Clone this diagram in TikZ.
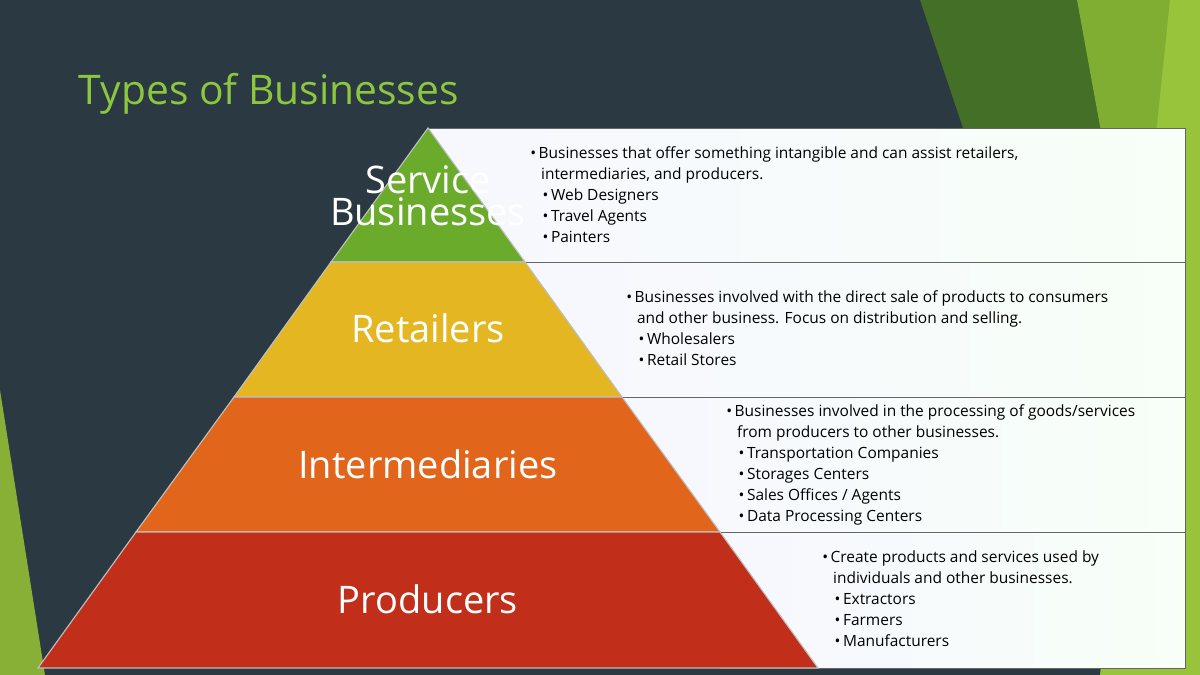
\documentclass[tikz,border=0pt]{standalone}
\usepackage{fontspec}
\setmainfont{Open Sans}
\definecolor{slate}{HTML}{2B3A42}
\definecolor{titlegreen}{HTML}{8DC63F}
\definecolor{darkwedge}{HTML}{436F26}
\definecolor{midwedge}{HTML}{7FAE33}
\definecolor{lightwedge}{HTML}{98C43C}
\definecolor{lvlgreen}{HTML}{6AAB2C}
\definecolor{lvlyellow}{HTML}{E4B621}
\definecolor{lvlorange}{HTML}{E2651C}
\definecolor{lvlred}{HTML}{C12F1B}
\tikzset{
  level/.style={draw=white!75!black, line width=0.8pt},
  infobox/.style={draw=black!60, line width=0.6pt, left color=black!4!blue!3!white, right color=green!3!white},
  levellabel/.style={text=white, font=\fontsize{27}{29}\selectfont, align=center},
  infotext/.style={anchor=north west, align=left, font=\fontsize{11}{15}\selectfont, inner sep=0pt}
}
\newcommand{\mainitem}[1]{\textbullet\,#1}
\newcommand{\subbullet}[1]{\hspace*{0.8em}\textbullet\,#1}
\begin{document}
\begin{tikzpicture}[x=0.025cm, y=-0.025cm]
  % background
  \fill[slate] (0,0) rectangle (1200,675);
  \useasboundingbox (0,0) rectangle (1200,675);
  \fill[darkwedge] (920,0) -- (1200,0) -- (1200,675) -- (1147,675) -- cycle;
  \fill[midwedge] (1077,0) -- (1200,0) -- (1200,675) -- cycle;
  \fill[lightwedge] (1170,0) -- (1200,0) -- (1200,675) -- (1100,675) -- cycle;
  \fill[lightwedge!90!black] (0,390) -- (45,675) -- (0,675) -- cycle;
  \node[anchor=west, text=titlegreen, font=\fontsize{29}{32}\selectfont] (title) at (74,94) {Types of Businesses};

  % text panels
  \node[infobox, minimum width=757*0.025cm, minimum height=134*0.025cm, anchor=north west] (box1) at (428,128) {};
  \node[infobox, minimum width=660*0.025cm, minimum height=135*0.025cm, anchor=north west] (box2) at (525,262) {};
  \node[infobox, minimum width=563*0.025cm, minimum height=135*0.025cm, anchor=north west] (box3) at (622,397) {};
  \node[infobox, minimum width=465*0.025cm, minimum height=136*0.025cm, anchor=north west] (box4) at (720,532) {};

  % pyramid
  \filldraw[level, fill=lvlgreen] (428,128) -- (525,262) -- (331,262) -- cycle;
  \filldraw[level, fill=lvlyellow] (331,262) -- (525,262) -- (622,397) -- (234,397) -- cycle;
  \filldraw[level, fill=lvlorange] (234,397) -- (622,397) -- (720,532) -- (136,532) -- cycle;
  \filldraw[level, fill=lvlred] (136,532) -- (720,532) -- (818,668) -- (38,668) -- cycle;

  \node[levellabel] (service) at (428,196) {Service\\[-6pt]Businesses};
  \node[levellabel] (retail) at (428,328) {Retailers};
  \node[levellabel] (inter) at (428,464) {Intermediaries};
  \node[levellabel] (prod) at (428,599) {Producers};

  \node[infotext] (text1) at (530,146) {\mainitem{Businesses that offer something intangible and can assist retailers,}\\
    \hspace*{0.7em}intermediaries, and producers.\\ \subbullet{Web Designers}\\ \subbullet{Travel Agents}\\ \subbullet{Painters}};
  \node[infotext] (text2) at (626,290) {\mainitem{Businesses involved with the direct sale of products to consumers}\\
    \hspace*{0.7em}and other business. Focus on distribution and selling.\\ \subbullet{Wholesalers}\\ \subbullet{Retail Stores}};
  \node[infotext] (text3) at (726,404) {\mainitem{Businesses involved in the processing of goods/services}\\
    \hspace*{0.7em}from producers to other businesses.\\ \subbullet{Transportation Companies}\\ \subbullet{Storages Centers}\\ \subbullet{Sales Offices / Agents}\\ \subbullet{Data Processing Centers}};
  \node[infotext] (text4) at (822,550) {\mainitem{Create products and services used by}\\
    \hspace*{0.7em}individuals and other businesses.\\ \subbullet{Extractors}\\ \subbullet{Farmers}\\ \subbullet{Manufacturers}};
\end{tikzpicture}
\end{document}
